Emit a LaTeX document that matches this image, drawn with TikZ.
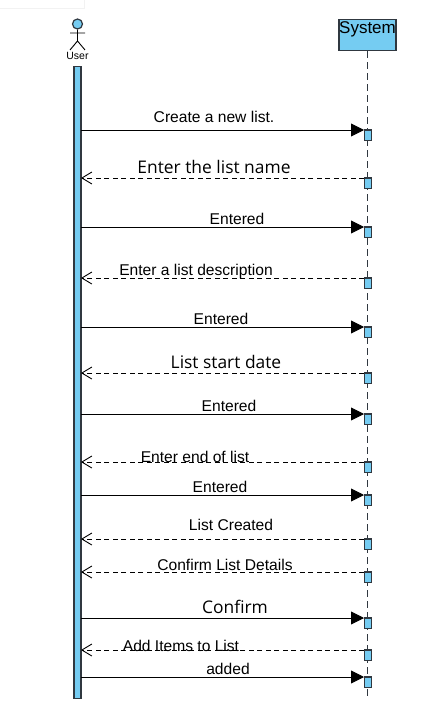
\documentclass[tikz,border=0pt]{standalone}
\usepackage{fontspec}
\setmainfont{Liberation Sans}
\newfontfamily\uifont{Open Sans}
\usetikzlibrary{arrows.meta}
\definecolor{boxblue}{HTML}{75CCF2}
\definecolor{edge}{HTML}{303840}
\tikzset{
  x=1pt,y=-1pt,
  bar/.style={draw=edge,fill=boxblue,line width=1.4pt,minimum width=7pt,inner sep=0pt,anchor=north},
  act/.style={bar,minimum height=10.5pt,yshift=.6pt},
  call/.style={draw=black,line width=.9pt,-{Triangle[length=13pt,width=13pt]},shorten >=0pt},
  reply/.style={draw=black,line width=.9pt,dash pattern=on 5pt off 3.5pt,-{Straight Barb[length=10pt,width=12pt,line width=.9pt]}},
  msg/.style={font=\fontsize{15.6}{18}\selectfont,inner sep=0pt,text=black,yshift=-.5pt},
  bigmsg/.style={font=\uifont\fontsize{17.4}{20}\selectfont,inner sep=0pt,text=black,yshift=-.5pt},
}
\newcommand{\step}[6]{%
  % #1 id, #2 y of message, #3 style of connector, #4 label x, #5 label y, #6 label text (with style)
  \node[act] (a#1) at (368,#2) {};
  \coordinate (u#1) at (81,#2);
  \coordinate (s#1) at (364,#2);
  \ifnum#3=0 \draw[call] (u#1) -- (s#1); \else \draw[reply] (s#1) -- (u#1); \fi
  \node[#6] (t#1) at (#4,#5) {\labeltext{#1}};
}
\newcommand{\labeltext}[1]{\ifcase#1\or Create a new list.\or Enter the list name\or Entered\or Enter a list description\or Entered\or List start date\or Entered\or Enter end of list\or Entered\or List Created\or Confirm List Details\or Confirm\or Add Items to List\or added\fi}
\begin{document}
\begin{tikzpicture}
\useasboundingbox (0,0) rectangle (433,714);
\fill[white] (0,0) rectangle (433,714);
\draw[black!5,line width=.8pt] (0,8.5) -- (84.5,8.5) -- (84.5,0);
% actor
\node[circle,draw=edge,fill=boxblue,line width=1.2pt,minimum size=10pt,inner sep=0pt] (head) at (77.5,24) {};
\coordinate (hip) at (77.5,41);
\coordinate (handl) at (70,33);
\coordinate (handr) at (85,33);
\coordinate (footl) at (70,50);
\coordinate (footr) at (85,50);
\coordinate (neckarm) at (77.5,33);
\draw[black,line width=.9pt] (head) -- (hip) (handl) -- (handr) (footl) -- (hip) -- (footr);
\node[font=\fontsize{10.5}{12}\selectfont,inner sep=0pt,text=black] (user) at (77.5,56) {User};
\node[bar,minimum height=632pt] (ubar) at (77.5,66) {};
% system
\node[draw=edge,fill=boxblue,line width=1.4pt,minimum width=57pt,minimum height=31pt,inner sep=0pt,anchor=north] (sys) at (367.5,19) {};
\node[font=\fontsize{17}{20}\selectfont,inner sep=0pt,text=black] (systext) at (367.5,29) {System};
\coordinate (lifeend) at (367.5,698);
\draw[edge,line width=1.5pt,dash pattern=on 7pt off 4pt] (sys.south -| lifeend) -- (lifeend);
% messages
\step{1}{130}{0}{214}{116}{msg}
\step{2}{178}{1}{214}{166}{bigmsg}
\step{3}{227}{0}{237}{218}{msg}
\step{4}{278}{1}{196}{271}{msg}
\step{5}{327}{0}{221}{318}{msg}
\step{6}{373}{1}{226}{361}{bigmsg}
\step{7}{414}{0}{229}{405}{msg}
\step{8}{462}{1}{195}{456}{msg}
\step{9}{495}{0}{220}{486}{msg}
\step{10}{539}{1}{231}{524}{msg}
\step{11}{572}{1}{225}{564}{msg}
\step{12}{618}{0}{235}{606}{bigmsg}
\step{13}{650}{1}{181}{645}{msg}
\step{14}{677}{0}{228}{668}{msg}
\end{tikzpicture}
\end{document}
